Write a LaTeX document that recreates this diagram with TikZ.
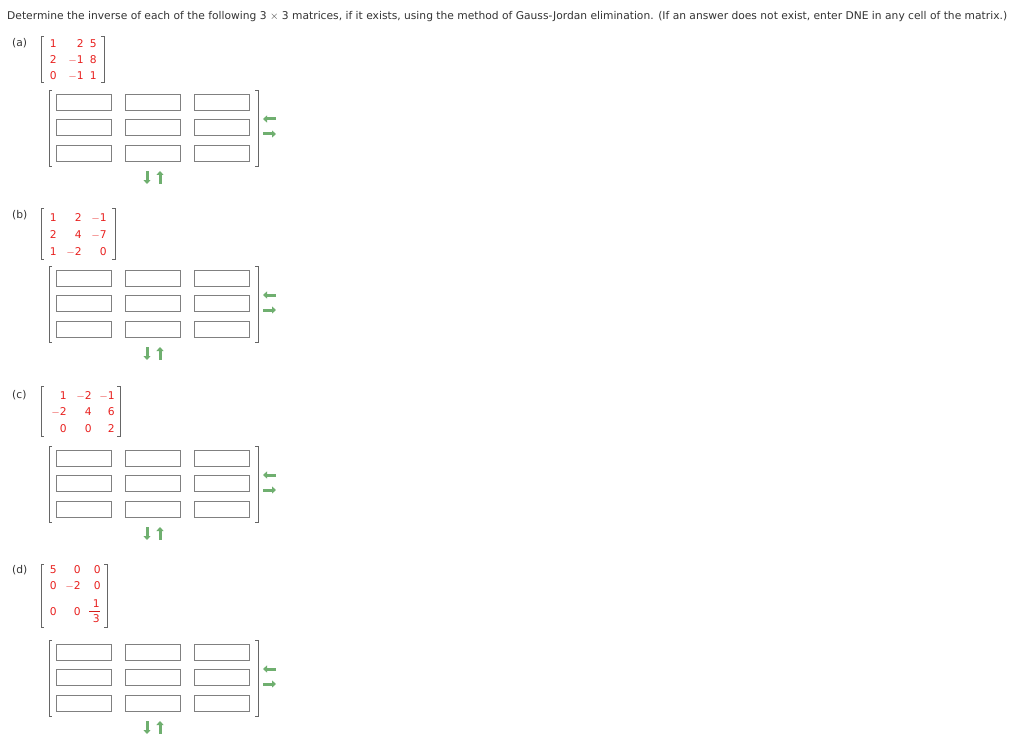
\documentclass[tikz,border=0pt]{standalone}
\usepackage{fontspec}
\setmainfont{DejaVu Sans}
\usetikzlibrary{arrows.meta}
\definecolor{num}{HTML}{E8201E}
\definecolor{grn}{HTML}{6FAF6F}
\definecolor{lbl}{HTML}{333333}
\tikzset{
  txt/.style={font=\fontsize{10.7}{12}\selectfont,text=lbl,inner sep=0pt},
  num/.style={font=\fontsize{10.7}{12}\selectfont,text=num,inner sep=0pt,anchor=east},
  brk/.style={draw=black!60,line width=0.8pt},
  cell/.style={draw=black!50,line width=0.8pt,fill=white},
  garr/.style={draw=grn,line width=3pt,-{Triangle[length=4pt,width=7pt]}}
}
\newcommand{\lbrk}[3]{\draw[brk] (#1+3,#2)--(#1,#2)--(#1,#3)--(#1+3,#3);}
\newcommand{\rbrk}[3]{\draw[brk] (#1-3,#2)--(#1,#2)--(#1,#3)--(#1-3,#3);}
\newcommand{\answer}[1]{%
  \lbrk{49}{#1}{#1+76}\rbrk{258}{#1}{#1+76}
  \foreach \cx in {56,125,194}{\foreach \dy in {4,29,55}{\draw[cell] (\cx,#1+\dy) rectangle (\cx+55,#1+\dy+16);}}
  \draw[garr] (276,#1+29)--(263,#1+29);
  \draw[garr] (263,#1+44)--(276,#1+44);
  \draw[garr] (147,#1+81)--(147,#1+94);
  \draw[garr] (160,#1+94)--(160,#1+81);
}
\begin{document}
\begin{tikzpicture}[x=1pt,y=-1pt]
\useasboundingbox (0,0) rectangle (1024,738);
\node[txt,anchor=west] (title) at (7,17) {Determine the inverse of each of the following 3 $\times$ 3 matrices, if it exists, using the method of Gauss-Jordan elimination. (If an answer does not exist, enter DNE in any cell of the matrix.)};
% (a)
\node[txt,anchor=west] (la) at (12,43) {(a)};
\lbrk{41}{36}{82}\rbrk{104}{36}{82}
\foreach \r/\y in {{1,2,5}/44,{2,$-$1,8}/60,{0,$-$1,1}/76}{
  \foreach \v [count=\i] in \r {\pgfmathsetmacro\xx{{0,57,84,97}[\i]}\node[num] at (\xx,\y) {\v};}}
\answer{90}
% (b)
\node[txt,anchor=west] (lb) at (12,215) {(b)};
\lbrk{41}{208}{259}\rbrk{115}{208}{259}
\foreach \r/\y in {{1,2,$-$1}/218,{2,4,$-$7}/235,{1,$-$2,0}/252}{
  \foreach \v [count=\i] in \r {\pgfmathsetmacro\xx{{0,57,82,107}[\i]}\node[num] at (\xx,\y) {\v};}}
\answer{266}
% (c)
\node[txt,anchor=west] (lc) at (12,395) {(c)};
\lbrk{41}{386}{436}\rbrk{120}{386}{436}
\foreach \r/\y in {{1,$-$2,$-$1}/396,{$-$2,4,6}/412,{0,0,2}/429}{
  \foreach \v [count=\i] in \r {\pgfmathsetmacro\xx{{0,67,92,115}[\i]}\node[num] at (\xx,\y) {\v};}}
\answer{446}
% (d)
\node[txt,anchor=west] (ld) at (12,570) {(d)};
\lbrk{41}{564}{627}\rbrk{107}{564}{627}
\foreach \r/\y in {{5,0,0}/570,{0,$-$2,0}/586}{
  \foreach \v [count=\i] in \r {\pgfmathsetmacro\xx{{0,57,81,101}[\i]}\node[num] at (\xx,\y) {\v};}}
\node[num] at (57,612) {0};
\node[num] at (81,612) {0};
\node[num] at (100,604) {1};
\draw[num!90!black,line width=0.6pt] (89,611)--(100,611);
\node[num] at (100,619) {3};
\answer{640}
\end{tikzpicture}
\end{document}
